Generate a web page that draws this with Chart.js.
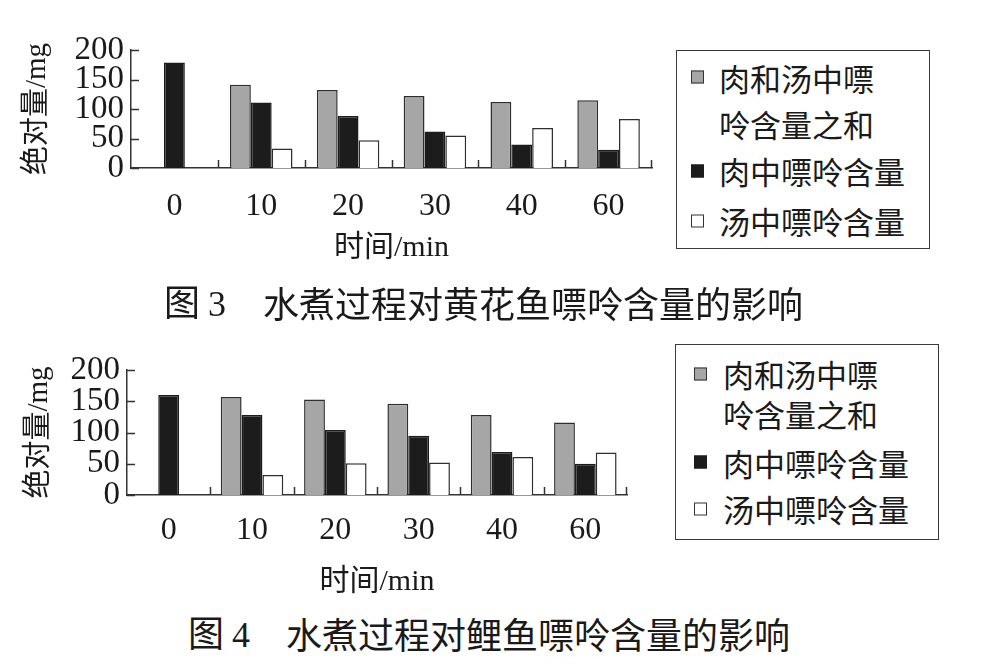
<!DOCTYPE html>
<html>
<head>
<meta charset="utf-8">
<script src="https://cdn.jsdelivr.net/npm/chart.js@4.4.1/dist/chart.umd.min.js"></script>
<style>
  html, body { margin: 0; padding: 0; background: #ffffff; }
  body { width: 1000px; height: 665px; position: relative; overflow: hidden; }
  .cv { position: absolute; left: 0; }
  .legend { position: absolute; border: 1.5px solid #3a3a3a; box-sizing: border-box; background: #fff; }
  .lg-text { position: absolute; font-family: 'Noto Sans CJK SC', sans-serif; font-size: 31px; color: #1a1a1a; line-height: 1; white-space: nowrap; transform: translateY(-50%); }
  .lg-mark { position: absolute; width: 13px; height: 13px; box-sizing: border-box; transform: translateY(-50%); }
  .caption { position: absolute; font-family: 'Noto Sans CJK SC', sans-serif; font-size: 36px; color: #1a1a1a; line-height: 1; white-space: nowrap; transform: translateY(-50%); }
  .caption .num { font-family: 'Liberation Serif', serif; }
</style>
</head>
<body>
<canvas id="c1" class="cv" style="top:0px"></canvas>
<canvas id="c2" class="cv" style="top:320px"></canvas>

<div class="legend" style="left:676px; top:50px; width:254px; height:199px;"></div>
<div class="lg-mark" style="left:691px; top:77px; background:#a6a6a6; border:1.5px solid #333;"></div>
<div class="lg-text" style="left:719px; top:77px;">肉和汤中嘌</div>
<div class="lg-text" style="left:719px; top:123px;">呤含量之和</div>
<div class="lg-mark" style="left:691px; top:171px; background:#1c1c1c; border:1.5px solid #1c1c1c;"></div>
<div class="lg-text" style="left:719px; top:170px;">肉中嘌呤含量</div>
<div class="lg-mark" style="left:691px; top:221px; background:#fff; border:1.5px solid #333;"></div>
<div class="lg-text" style="left:719px; top:220px;">汤中嘌呤含量</div>

<div class="legend" style="left:675px; top:344px; width:264px; height:196px;"></div>
<div class="lg-mark" style="left:694px; top:374px; background:#a6a6a6; border:1.5px solid #333;"></div>
<div class="lg-text" style="left:723px; top:373px;">肉和汤中嘌</div>
<div class="lg-text" style="left:723px; top:413px;">呤含量之和</div>
<div class="lg-mark" style="left:694px; top:462px; background:#1c1c1c; border:1.5px solid #1c1c1c;"></div>
<div class="lg-text" style="left:723px; top:462px;">肉中嘌呤含量</div>
<div class="lg-mark" style="left:694px; top:509px; background:#fff; border:1.5px solid #333;"></div>
<div class="lg-text" style="left:723px; top:508px;">汤中嘌呤含量</div>

<div class="caption" style="left:164px; top:302px;">图 <span class="num">3</span></div>
<div class="caption" style="left:263px; top:302px;">水煮过程对黄花鱼嘌呤含量的影响</div>
<div class="caption" style="left:188px; top:633px;">图 <span class="num">4</span></div>
<div class="caption" style="left:286px; top:633px;">水煮过程对鲤鱼嘌呤含量的影响</div>

<script>
// ---- data ----
const categories = ['0', '10', '20', '30', '40', '60'];
const seriesNames = ['肉和汤中嘌呤含量之和', '肉中嘌呤含量', '汤中嘌呤含量'];
const yTickValues = [0, 50, 100, 150, 200];

// 图3 黄花鱼
const fig3Total = [null, 141, 132, 122, 112, 115];
const fig3Meat  = [179, 111, 88, 62, 40, 31];
const fig3Soup  = [null, 33, 47, 55, 68, 83];

// 图4 鲤鱼
const fig4Total = [null, 157, 153, 146, 128, 116];
const fig4Meat  = [160, 128, 104, 95, 69, 50];
const fig4Soup  = [null, 32, 51, 52, 61, 68];

const xTitle = '时间/min';
const yTitle = '绝对量/mg';

// ---- styles ----
const AXIS = '#333333';
const serif = "'Liberation Serif', 'Times New Roman', serif";
const mixed = "'Liberation Serif', 'Noto Sans CJK SC', serif";

const inwardTicks = {
  id: 'inwardTicks',
  afterDraw(chart) {
    const ctx = chart.ctx;
    const xs = chart.scales.x, ys = chart.scales.y;
    const area = chart.chartArea;
    ctx.save();
    ctx.strokeStyle = AXIS;
    ctx.lineWidth = 1.5;
    ctx.beginPath();
    const n = categories.length;
    for (let i = 1; i < n; i++) {
      const px = Math.round((xs.getPixelForValue(i - 1) + xs.getPixelForValue(i)) / 2) + 0.5;
      ctx.moveTo(px, area.bottom);
      ctx.lineTo(px, area.bottom - 8);
    }
    ctx.moveTo(area.right - 0.5, area.bottom);
    ctx.lineTo(area.right - 0.5, area.bottom - 8);
    ys.ticks.forEach(t => {
      const py = Math.round(ys.getPixelForValue(t.value)) + 0.5;
      ctx.moveTo(area.left, py);
      ctx.lineTo(area.left + 8, py);
    });
    ctx.stroke();
    ctx.restore();
  }
};

function makeChart(id, w, h, total, meat, soup, cfg) {
  const canvas = document.getElementById(id);
  canvas.style.width = w + 'px';
  canvas.style.height = h + 'px';
  canvas.width = w; canvas.height = h;
  return new Chart(canvas, {
    type: 'bar',
    data: {
      labels: categories,
      datasets: [
        { label: seriesNames[0], data: total, backgroundColor: '#a6a6a6', borderColor: '#2e2e2e', borderWidth: 1.5 },
        { label: seriesNames[1], data: meat, backgroundColor: '#1c1c1c', borderColor: '#1c1c1c', borderWidth: 1.5 },
        { label: seriesNames[2], data: soup, backgroundColor: '#ffffff', borderColor: '#2e2e2e', borderWidth: 1.5 }
      ]
    },
    options: {
      responsive: false,
      animation: false,
      devicePixelRatio: 1,
      layout: { padding: { top: cfg.top, right: 8, bottom: 4, left: 0 } },
      plugins: { legend: { display: false }, tooltip: { enabled: false } },
      datasets: { bar: { categoryPercentage: cfg.catPct, barPercentage: 1.0, borderSkipped: 'start' } },
      scales: {
        x: {
          grid: { display: false, drawTicks: false },
          border: { display: true, color: AXIS, width: 1.5 },
          ticks: { color: '#1a1a1a', font: { family: serif, size: 32 }, padding: cfg.xPad, maxRotation: 0, autoSkip: false },
          title: { display: true, text: xTitle, color: '#1a1a1a', font: { family: mixed, size: 30 }, padding: { top: 0, bottom: 0 } },
          afterFit(scale) { scale.height = cfg.xH; }
        },
        y: {
          min: 0, max: 200,
          afterBuildTicks(scale) { scale.ticks = yTickValues.map(v => ({ value: v })); },
          grid: { display: false, drawTicks: false },
          border: { display: true, color: AXIS, width: 1.5 },
          ticks: { color: '#1a1a1a', font: { family: serif, size: 33 }, padding: 7, autoSkip: false },
          title: { display: true, text: yTitle, color: '#1a1a1a', font: { family: mixed, size: 29 }, padding: { top: cfg.yTitlePad, bottom: 0 } },
          afterFit(scale) { scale.width = cfg.yW; }
        }
      }
    },
    plugins: [inwardTicks]
  });
}

makeChart('c1', 660, 270, fig3Total, fig3Meat, fig3Soup,
  { top: 50, xH: 98, xPad: 19, yW: 131, yTitlePad: 20, catPct: 0.72 });
makeChart('c2', 635, 284, fig4Total, fig4Meat, fig4Soup,
  { top: 50, xH: 105, xPad: 16, yW: 127, yTitlePad: 22, catPct: 0.75 });
</script>
</body>
</html>
